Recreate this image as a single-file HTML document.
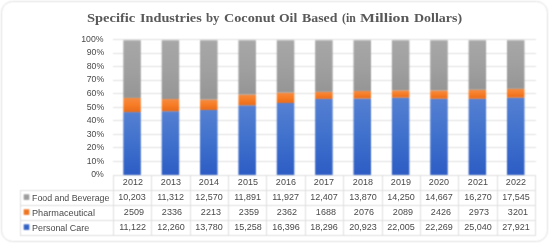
<!DOCTYPE html>
<html><head><meta charset="utf-8"><title>Specific Industries by Coconut Oil Based</title><style>
html,body{margin:0;padding:0;background:#fff;}
#c{position:relative;width:550px;height:243px;overflow:hidden;background:#fff;font-family:"Liberation Sans",Arial,sans-serif;color:#4a4a4a;}
.frame{position:absolute;left:1px;top:1px;width:545px;height:239px;border:1px solid #e6e6e6;border-radius:11px;box-sizing:content-box;filter:url(#bl)}
.title{position:absolute;left:0;width:548px;height:16px;top:10.0px;font-family:"Liberation Serif",serif;font-weight:bold;font-size:12.0px;line-height:16px;letter-spacing:0px;color:#595959;white-space:nowrap}
.tw{position:absolute;top:0;transform-origin:0 0}
.yl{position:absolute;right:446px;transform:scaleX(0.91);transform-origin:100% 0;font-size:9.6px;line-height:10px;text-align:right;white-space:nowrap}
.t{position:absolute;margin-top:0px;font-size:9.8px;line-height:15px;height:15px;text-align:center;white-space:nowrap}
.lg{position:absolute;margin-top:0.5px;font-size:9.0px;line-height:15px;height:15px;white-space:nowrap;left:32px;transform-origin:0 0}
.t span{display:inline-block;transform:scaleX(0.92)}
.sq{position:absolute;left:24px;width:5px;height:5px}
</style></head><body><svg width="0" height="0" style="position:absolute"><filter id="bl" x="0" y="0" width="100%" height="100%" color-interpolation-filters="sRGB"><feConvolveMatrix order="3" kernelMatrix="0.05090 0.12381 0.05090 0.12381 0.30116 0.12381 0.05090 0.12381 0.05090" edgeMode="duplicate" preserveAlpha="true"/></filter></svg><div id="c">


<svg width="550" height="243" style="position:absolute;left:0;top:0;filter:url(#bl)"><defs><linearGradient id="gb" x1="0" y1="0" x2="0" y2="1"><stop offset="0" stop-color="#5580d2"/><stop offset="0.5" stop-color="#3f70cc"/><stop offset="1" stop-color="#2d5cc4"/></linearGradient><linearGradient id="go" x1="0" y1="0" x2="0" y2="1"><stop offset="0" stop-color="#f68a40"/><stop offset="0.5" stop-color="#f77c25"/><stop offset="1" stop-color="#e86b1a"/></linearGradient><linearGradient id="gg" x1="0" y1="0" x2="0" y2="1"><stop offset="0" stop-color="#a7a7a7"/><stop offset="0.5" stop-color="#a0a0a0"/><stop offset="1" stop-color="#959595"/></linearGradient></defs><rect x="0" y="0" width="550" height="243" fill="#fff"/><rect x="1.5" y="1.5" width="546" height="240" rx="11" ry="11" fill="none" stroke="#e0e0e0" stroke-width="1"/><rect x="113" y="39" width="423" height="1" fill="#e0e0e0"/><rect x="113" y="53" width="423" height="1" fill="#e0e0e0"/><rect x="113" y="66" width="423" height="1" fill="#e0e0e0"/><rect x="113" y="80" width="423" height="1" fill="#e0e0e0"/><rect x="113" y="93" width="423" height="1" fill="#e0e0e0"/><rect x="113" y="107" width="423" height="1" fill="#e0e0e0"/><rect x="113" y="120" width="423" height="1" fill="#e0e0e0"/><rect x="113" y="134" width="423" height="1" fill="#e0e0e0"/><rect x="113" y="147" width="423" height="1" fill="#e0e0e0"/><rect x="113" y="161" width="423" height="1" fill="#e0e0e0"/><rect x="123.33" y="112.09" width="17.5" height="62.81" fill="url(#gb)"/><rect x="123.33" y="97.92" width="17.5" height="14.17" fill="url(#go)"/><rect x="123.33" y="40.30" width="17.5" height="57.62" fill="url(#gg)"/><rect x="161.70" y="111.21" width="17.5" height="63.69" fill="url(#gb)"/><rect x="161.70" y="99.07" width="17.5" height="12.14" fill="url(#go)"/><rect x="161.70" y="40.30" width="17.5" height="58.77" fill="url(#gg)"/><rect x="200.06" y="109.96" width="17.5" height="64.94" fill="url(#gb)"/><rect x="200.06" y="99.53" width="17.5" height="10.43" fill="url(#go)"/><rect x="200.06" y="40.30" width="17.5" height="59.23" fill="url(#gg)"/><rect x="238.42" y="105.30" width="17.5" height="69.60" fill="url(#gb)"/><rect x="238.42" y="94.54" width="17.5" height="10.76" fill="url(#go)"/><rect x="238.42" y="40.30" width="17.5" height="54.24" fill="url(#gg)"/><rect x="276.79" y="102.98" width="17.5" height="71.92" fill="url(#gb)"/><rect x="276.79" y="92.62" width="17.5" height="10.36" fill="url(#go)"/><rect x="276.79" y="40.30" width="17.5" height="52.32" fill="url(#gg)"/><rect x="315.15" y="98.87" width="17.5" height="76.03" fill="url(#gb)"/><rect x="315.15" y="91.86" width="17.5" height="7.01" fill="url(#go)"/><rect x="315.15" y="40.30" width="17.5" height="51.56" fill="url(#gg)"/><rect x="353.51" y="98.52" width="17.5" height="76.38" fill="url(#gb)"/><rect x="353.51" y="90.94" width="17.5" height="7.58" fill="url(#go)"/><rect x="353.51" y="40.30" width="17.5" height="50.64" fill="url(#gg)"/><rect x="391.88" y="97.66" width="17.5" height="77.24" fill="url(#gb)"/><rect x="391.88" y="90.32" width="17.5" height="7.33" fill="url(#go)"/><rect x="391.88" y="40.30" width="17.5" height="50.02" fill="url(#gg)"/><rect x="430.24" y="98.75" width="17.5" height="76.15" fill="url(#gb)"/><rect x="430.24" y="90.45" width="17.5" height="8.30" fill="url(#go)"/><rect x="430.24" y="40.30" width="17.5" height="50.15" fill="url(#gg)"/><rect x="468.60" y="98.79" width="17.5" height="76.11" fill="url(#gb)"/><rect x="468.60" y="89.75" width="17.5" height="9.04" fill="url(#go)"/><rect x="468.60" y="40.30" width="17.5" height="49.45" fill="url(#gg)"/><rect x="506.97" y="97.68" width="17.5" height="77.22" fill="url(#gb)"/><rect x="506.97" y="88.82" width="17.5" height="8.85" fill="url(#go)"/><rect x="506.97" y="40.30" width="17.5" height="48.52" fill="url(#gg)"/><rect x="113" y="175" width="423" height="1" fill="#dedede"/><rect x="20" y="190" width="516" height="1" fill="#dedede"/><rect x="20" y="205" width="516" height="1" fill="#dedede"/><rect x="20" y="220" width="516" height="1" fill="#dedede"/><rect x="20" y="235" width="516" height="1" fill="#dedede"/><rect x="20" y="190" width="1" height="46" fill="#dedede"/><rect x="113" y="175" width="1" height="61" fill="#dedede"/><rect x="151" y="175" width="1" height="61" fill="#dedede"/><rect x="190" y="175" width="1" height="61" fill="#dedede"/><rect x="228" y="175" width="1" height="61" fill="#dedede"/><rect x="266" y="175" width="1" height="61" fill="#dedede"/><rect x="305" y="175" width="1" height="61" fill="#dedede"/><rect x="343" y="175" width="1" height="61" fill="#dedede"/><rect x="382" y="175" width="1" height="61" fill="#dedede"/><rect x="420" y="175" width="1" height="61" fill="#dedede"/><rect x="458" y="175" width="1" height="61" fill="#dedede"/><rect x="497" y="175" width="1" height="61" fill="#dedede"/><rect x="535" y="175" width="1" height="61" fill="#dedede"/><rect x="23.7" y="194.3" width="5.6" height="5.6" fill="#9c9c9c"/><rect x="23.7" y="209.3" width="5.6" height="5.6" fill="#f0741f"/><rect x="23.7" y="224.3" width="5.6" height="5.6" fill="#3262c6"/></svg>
<div class="title"><span class="tw" style="left:87.20px;transform:scaleX(1.208)">Specific</span> <span class="tw" style="left:139.50px;transform:scaleX(1.187)">Industries</span> <span class="tw" style="left:205.80px;transform:scaleX(1.062)">by</span> <span class="tw" style="left:224.00px;transform:scaleX(1.184)">Coconut</span> <span class="tw" style="left:279.40px;transform:scaleX(1.138)">Oil</span> <span class="tw" style="left:301.70px;transform:scaleX(1.152)">Based</span> <span class="tw" style="left:342.30px;transform:scaleX(0.986)">(in</span> <span class="tw" style="left:359.70px;transform:scaleX(1.319)">Million</span> <span class="tw" style="left:414.00px;transform:scaleX(1.163)">Dollars)</span></div>
<div class="yl" style="top:33.5px">100%</div>
<div class="yl" style="top:47.1px">90%</div>
<div class="yl" style="top:60.7px">80%</div>
<div class="yl" style="top:74.3px">70%</div>
<div class="yl" style="top:87.9px">60%</div>
<div class="yl" style="top:101.5px">50%</div>
<div class="yl" style="top:115.0px">40%</div>
<div class="yl" style="top:128.6px">30%</div>
<div class="yl" style="top:142.2px">20%</div>
<div class="yl" style="top:155.8px">10%</div>
<div class="yl" style="top:169.4px">0%</div>
<div class="t" style="left:113.30px;width:38.36px;top:173.8px"><span>2012</span></div>
<div class="t" style="left:151.66px;width:38.36px;top:173.8px"><span>2013</span></div>
<div class="t" style="left:190.03px;width:38.36px;top:173.8px"><span>2014</span></div>
<div class="t" style="left:228.39px;width:38.36px;top:173.8px"><span>2015</span></div>
<div class="t" style="left:266.75px;width:38.36px;top:173.8px"><span>2016</span></div>
<div class="t" style="left:305.12px;width:38.36px;top:173.8px"><span>2017</span></div>
<div class="t" style="left:343.48px;width:38.36px;top:173.8px"><span>2018</span></div>
<div class="t" style="left:381.85px;width:38.36px;top:173.8px"><span>2019</span></div>
<div class="t" style="left:420.21px;width:38.36px;top:173.8px"><span>2020</span></div>
<div class="t" style="left:458.57px;width:38.36px;top:173.8px"><span>2021</span></div>
<div class="t" style="left:496.94px;width:38.36px;top:173.8px"><span>2022</span></div>
<div class="lg" style="top:190px;transform:scaleX(0.978)">Food and Beverage</div>
<div class="t" style="left:113.30px;width:38.36px;top:188.8px"><span>10,203</span></div>
<div class="t" style="left:151.66px;width:38.36px;top:188.8px"><span>11,312</span></div>
<div class="t" style="left:190.03px;width:38.36px;top:188.8px"><span>12,570</span></div>
<div class="t" style="left:228.39px;width:38.36px;top:188.8px"><span>11,891</span></div>
<div class="t" style="left:266.75px;width:38.36px;top:188.8px"><span>11,927</span></div>
<div class="t" style="left:305.12px;width:38.36px;top:188.8px"><span>12,407</span></div>
<div class="t" style="left:343.48px;width:38.36px;top:188.8px"><span>13,870</span></div>
<div class="t" style="left:381.85px;width:38.36px;top:188.8px"><span>14,250</span></div>
<div class="t" style="left:420.21px;width:38.36px;top:188.8px"><span>14,667</span></div>
<div class="t" style="left:458.57px;width:38.36px;top:188.8px"><span>16,270</span></div>
<div class="t" style="left:496.94px;width:38.36px;top:188.8px"><span>17,545</span></div>
<div class="lg" style="top:205px;transform:scaleX(1.015)">Pharmaceutical</div>
<div class="t" style="left:114.70px;width:38.36px;top:203.8px"><span>2509</span></div>
<div class="t" style="left:153.06px;width:38.36px;top:203.8px"><span>2336</span></div>
<div class="t" style="left:191.43px;width:38.36px;top:203.8px"><span>2213</span></div>
<div class="t" style="left:229.79px;width:38.36px;top:203.8px"><span>2359</span></div>
<div class="t" style="left:268.15px;width:38.36px;top:203.8px"><span>2362</span></div>
<div class="t" style="left:306.52px;width:38.36px;top:203.8px"><span>1688</span></div>
<div class="t" style="left:344.88px;width:38.36px;top:203.8px"><span>2076</span></div>
<div class="t" style="left:383.25px;width:38.36px;top:203.8px"><span>2089</span></div>
<div class="t" style="left:421.61px;width:38.36px;top:203.8px"><span>2426</span></div>
<div class="t" style="left:459.97px;width:38.36px;top:203.8px"><span>2973</span></div>
<div class="t" style="left:498.34px;width:38.36px;top:203.8px"><span>3201</span></div>
<div class="lg" style="top:220px;transform:scaleX(0.995)">Personal Care</div>
<div class="t" style="left:113.30px;width:38.36px;top:218.8px"><span>11,122</span></div>
<div class="t" style="left:151.66px;width:38.36px;top:218.8px"><span>12,260</span></div>
<div class="t" style="left:190.03px;width:38.36px;top:218.8px"><span>13,780</span></div>
<div class="t" style="left:228.39px;width:38.36px;top:218.8px"><span>15,258</span></div>
<div class="t" style="left:266.75px;width:38.36px;top:218.8px"><span>16,396</span></div>
<div class="t" style="left:305.12px;width:38.36px;top:218.8px"><span>18,296</span></div>
<div class="t" style="left:343.48px;width:38.36px;top:218.8px"><span>20,923</span></div>
<div class="t" style="left:381.85px;width:38.36px;top:218.8px"><span>22,005</span></div>
<div class="t" style="left:420.21px;width:38.36px;top:218.8px"><span>22,269</span></div>
<div class="t" style="left:458.57px;width:38.36px;top:218.8px"><span>25,040</span></div>
<div class="t" style="left:496.94px;width:38.36px;top:218.8px"><span>27,921</span></div>
</div></body></html>
